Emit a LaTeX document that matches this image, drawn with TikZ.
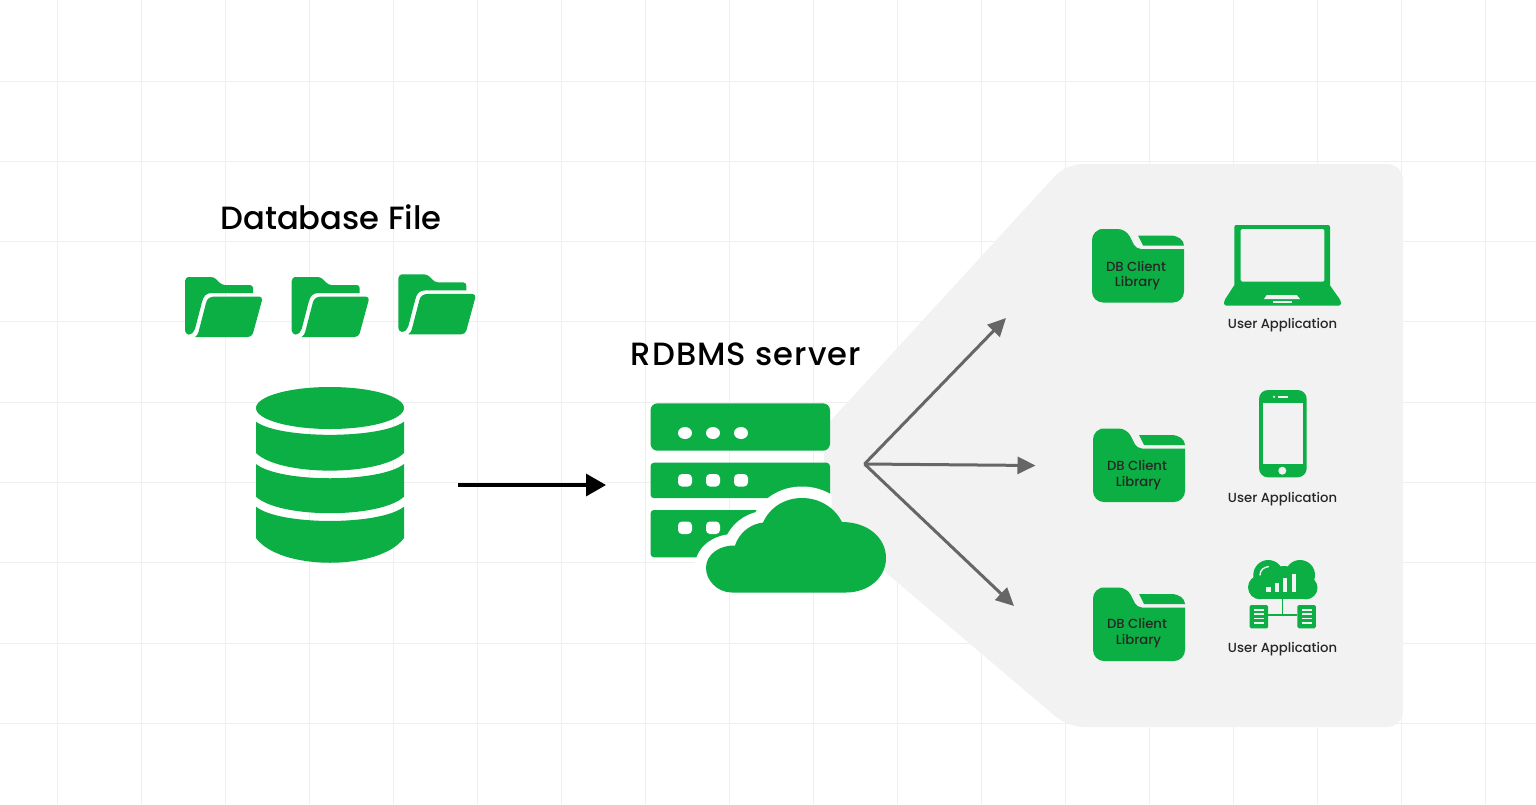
\documentclass[tikz,border=0pt]{standalone}
\usepackage{fontspec}
\setmainfont{Poppins}
\newfontfamily\medfont{Poppins Medium}
\newfontfamily\widefont[LetterSpace=3.2]{Poppins Medium}
\usetikzlibrary{arrows.meta}
\definecolor{lgreen}{HTML}{0BAF44}
\definecolor{panelgray}{HTML}{F2F2F2}
\definecolor{gridgray}{HTML}{EFEFEF}
\definecolor{arrowgray}{HTML}{666666}
\tikzset{
  gridline/.style={draw=gridgray,line width=1},
  ink/.style={fill=lgreen,draw=none},
  cutout/.style={fill=panelgray,draw=none},
  heading/.style={text=black,inner sep=0},
  smalltext/.style={font=\medfont\fontsize{13.2}{15.5}\selectfont,text=black!85,inner sep=0,align=center},
  blackarrow/.style={draw=black,line width=3.4,-{Triangle[length=20,width=22]}},
  grayarrow/.style={draw=arrowgray,line width=3,-{Triangle[length=18,width=17]}},
  pics/openfolder/.style={code={
    \fill[ink] (5,0) [rounded corners=4] -- (0,0) -- (0,57.5) [rounded corners=0] -- (3,57.5)
       .. controls (7,57.5) and (9,55) .. (10,52) -- (17,25)
       .. controls (18.5,19) and (21,16) .. (27,16) -- (68,16)
       [rounded corners=3] -- (68,8) -- (37,8) -- (29,0) -- cycle;
    \fill[ink] (30,19.5) [rounded corners=4] -- (78,19.5) -- (67,60) [rounded corners=0] -- (10,60)
       .. controls (12,58.5) and (13,57) .. (13.5,55) -- (21,26)
       .. controls (22,21.5) and (25,19.5) .. (30,19.5) -- cycle;
  }},
  pics/dbfolder/.style={code={
    \fill[ink] (15,0) [rounded corners=11] -- (0,0) -- (0,73.5) -- (92,73.5) [rounded corners=0] -- (92,20)
       [rounded corners=5] -- (44,20) [rounded corners=8] -- (34,0) -- cycle;
    \fill[ink] (46,6.5) -- (78,6.5) .. controls (86,6.5) and (92,11) .. (92,16.5) -- (51,16.5) -- cycle;
  }},
}
\newcommand{\dbslice}[5]{% top y, top dip, bottom y, bottom dip
  \fill[ink] (256,#1) .. controls (280,#1+#2) and (380,#1+#2) .. (404,#1) -- (404,#3)
     .. controls (380,#3+#4) and (280,#3+#4) .. (256,#3) -- cycle;}
\newcommand{\cloudshape}{(732,592.5) .. controls (717,592.5) and (706,580) .. (706,568)
  .. controls (706,554) and (720,545) .. (735,545.5)
  .. controls (739,533) and (750,524) .. (763,522.5)
  .. controls (770,507) and (785,498) .. (802,498)
  .. controls (820,498) and (835,508) .. (842,522)
  .. controls (868,522) and (886,538) .. (886,558)
  .. controls (886,578) and (868,592.5) .. (846,592.5) -- cycle}
\begin{document}
\begin{tikzpicture}[x=1pt,y=-1pt]
\useasboundingbox (0,0) rectangle (1536,804);
\fill[white] (0,0) rectangle (1536,804);
% grid
\foreach \gx in {57,141,225,309,393,477,561,645,729,813,897,981,1065,1149,1233,1317,1401,1485}
  \draw[gridline] (\gx,0) -- (\gx,804);
\foreach \gy in {81,161,241,321,402,482,562,643,723}
  \draw[gridline] (0,\gy) -- (1536,\gy);
% panel
\fill[panelgray,rounded corners=16] (824,428) -- (1066,164) -- (1403,164) -- (1403,727) -- (1068,727) -- (824,520) [sharp corners] -- cycle;
% heading texts
\node[heading,font=\medfont\fontsize{32.2}{36}\selectfont] (dbtitle) at (331,217) {Database File};
\node[heading,font=\widefont\fontsize{32.2}{36}\selectfont] (srvtitle) at (746,354) {RDBMS server};
% open folders
\pic at (185,277) {openfolder};
\pic at (291.7,277) {openfolder};
\pic at (398.3,274.4) {openfolder};
% database
\fill[ink] (330,408) ellipse [x radius=74,y radius=21];
\dbslice{421.7}{17.5}{453}{23.5}{}
\dbslice{464}{19}{496.7}{22}{}
\dbslice{506.7}{19}{538}{33}{}
% server
\fill[ink,rounded corners=7] (650.5,403.3) rectangle (830,450.7);
\fill[ink,rounded corners=3.5] (650.5,462.7) rectangle (830,498.2);
\fill[ink,rounded corners=3.5] (650.5,510) rectangle (830,557.3);
\begin{scope}
  \clip (640,455) rectangle (831.5,565);
  \draw[white,line width=23,line join=round] \cloudshape;
\end{scope}
\foreach \dx in {685,713,741} \fill[white] (\dx,433) ellipse [x radius=7,y radius=6];
\foreach \dx in {685,713,741} \fill[white,rounded corners=4] (\dx-7,474) rectangle (\dx+7,486.5);
\foreach \dx in {685,713} \fill[white,rounded corners=4] (\dx-7,521.5) rectangle (\dx+7,534);
\fill[ink] \cloudshape;
% connectors
\coordinate (dbout) at (458,485);
\coordinate (srvin) at (606,485);
\coordinate (hub) at (864.5,464);
\coordinate (top) at (1006,318);
\coordinate (mid) at (1035.5,465.5);
\coordinate (bot) at (1014,606);
\draw[blackarrow] (dbout) -- (srvin);
\draw[grayarrow] (hub) -- (top);
\draw[grayarrow] (hub) -- (mid);
\draw[grayarrow] (hub) -- (bot);
% client folders
\pic at (1092,229) {dbfolder};
\pic at (1093,428.5) {dbfolder};
\pic at (1093,587.5) {dbfolder};
\node[smalltext] (lib1) at (1137.5,275.5) {DB Client\hspace*{3pt}\\Library};
\node[smalltext] (lib2) at (1138.5,475) {DB Client\hspace*{3pt}\\Library};
\node[smalltext] (lib3) at (1138.5,633) {DB Client\hspace*{3pt}\\Library};
% laptop
\fill[ink,rounded corners=2] (1234.3,225) rectangle (1330,290);
\fill[ink,rounded corners=2.5] (1235,284) -- (1329,284) -- (1341,301) -- (1341,305.7) -- (1224,305.7) -- (1224,301) -- cycle;
\fill[cutout,rounded corners=1.5] (1240.7,229) rectangle (1324.3,281.7);
\fill[cutout] (1266.7,295) -- (1296.7,295) -- (1300,299) -- (1264,299) -- cycle;
\fill[cutout] (1272.7,301) rectangle (1292.3,303);
\node[smalltext] (app1) at (1282.5,325) {User Application};
% phone
\fill[ink,rounded corners=9] (1259,390) rectangle (1306.7,477.3);
\fill[cutout] (1263.3,402.7) rectangle (1302.7,464);
\fill[cutout] (1282.3,470.7) circle [radius=4];
\fill[cutout] (1277.7,395.8) rectangle (1288.3,397.8);
\fill[cutout] (1274,396.8) circle [radius=1.2];
\node[smalltext] (app2) at (1282.5,499) {User Application};
% cloud application
\fill[ink] (1260,587.3) circle [radius=12];
\fill[ink] (1306,587.8) circle [radius=11.5];
\fill[ink] (1268.3,575) circle [radius=15];
\fill[ink] (1300,575) circle [radius=15];
\fill[ink] (1284,580) circle [radius=14];
\fill[ink] (1260,580) rectangle (1306,599.3);
\draw[panelgray,line width=1.4,line cap=round] (1260,575) .. controls (1260,570) and (1264,567) .. (1268.3,566.7);
\foreach \bl/\br/\bt in {1266/1270.7/586.7,1275/1279.3/582.7,1283.3/1287.3/578.3,1291.7/1296/574}
  \fill[cutout] (\bl,\bt) rectangle (\br,592.3);
\draw[lgreen,line width=1.5] (1282.7,599) -- (1282.7,615);
\draw[lgreen,line width=1.5] (1268,615) -- (1297,615);
\foreach \sx in {1249.7,1297.3} {
  \fill[ink,rounded corners=1.5] (\sx,605) rectangle (\sx+18.5,628.3);
  \foreach \sy in {610,614,618.3,623}
    \draw[panelgray,line width=1.2] (\sx+4.3,\sy) -- (\sx+14.3,\sy);
}
\node[smalltext] (app3) at (1282.5,649) {User Application};
\end{tikzpicture}
\end{document}
